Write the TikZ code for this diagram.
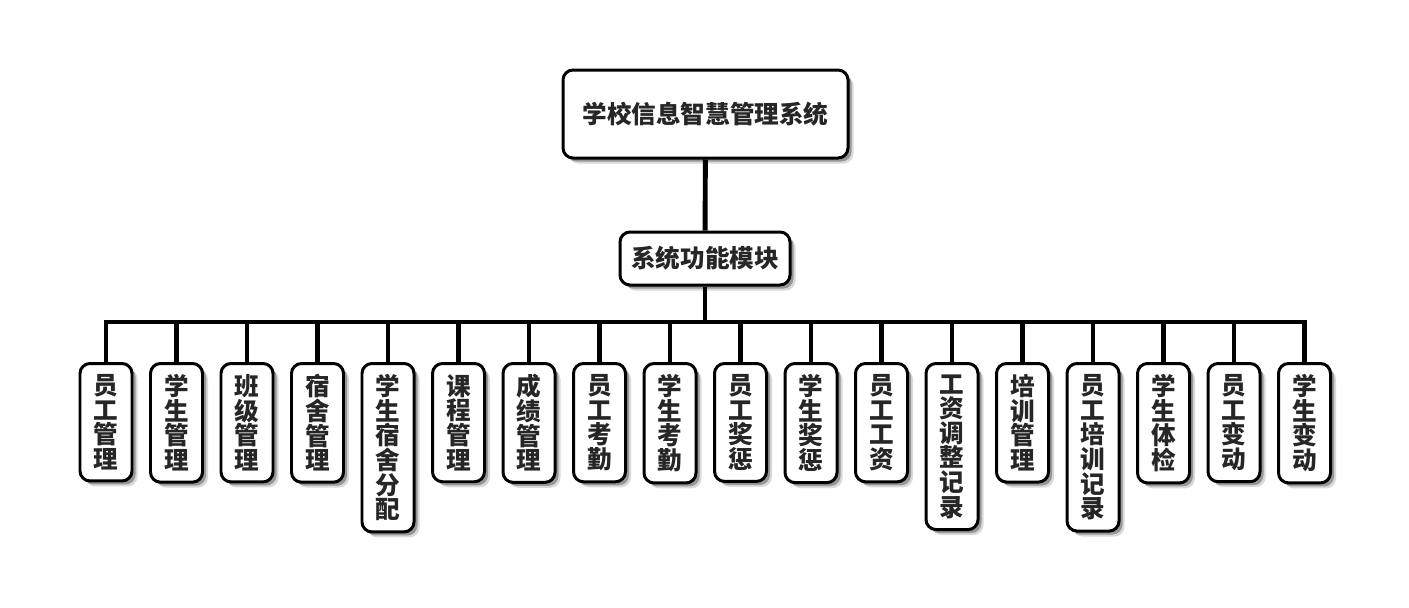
\documentclass[tikz,border=0pt]{standalone}
\usepackage{fontspec}
\newfontfamily\cjk{Noto Sans CJK SC}
\usetikzlibrary{positioning,shadows}

\begin{document}
\begin{tikzpicture}[font=\cjk\bfseries,
  box/.style={draw,line width=1.7pt,rounded corners=0.2cm,fill=white,text=black!85,
    general shadow={shadow xshift=0.11cm,shadow yshift=-0.11cm,opacity=0.15,fill=black},
    drop shadow={shadow xshift=0.07cm,shadow yshift=-0.07cm,opacity=0.3,fill=black}},
  leaf/.style={box,anchor=north,minimum width=1.04cm,inner xsep=0pt,inner ysep=0.22cm,
    align=center,font=\cjk\bfseries\fontsize{14pt}{14pt}\selectfont},
  link/.style={line width=2.8pt}]
\path[use as bounding box] (0,0) rectangle (28.18,-12.14);
\node[box,minimum width=5.7cm,minimum height=1.76cm,font=\cjk\bfseries\fontsize{14pt}{16pt}\selectfont] (root) at (14.11,-2.28) {学校信息智慧管理系统};
\node[box,minimum width=3.4cm,minimum height=1.06cm,font=\cjk\bfseries\fontsize{14pt}{16pt}\selectfont] (mod) at (14.10,-5.17) {系统功能模块};
\coordinate (bus) at (14.10,-6.44);
\node[leaf] (m1) at (2.12,-7.24) {员\\工\\管\\理};
\node[leaf] (m2) at (3.53,-7.24) {学\\生\\管\\理};
\node[leaf] (m3) at (4.94,-7.24) {班\\级\\管\\理};
\node[leaf] (m4) at (6.35,-7.24) {宿\\舍\\管\\理};
\node[leaf] (m5) at (7.76,-7.24) {学\\生\\宿\\舍\\分\\配};
\node[leaf] (m6) at (9.17,-7.24) {课\\程\\管\\理};
\node[leaf] (m7) at (10.58,-7.24) {成\\绩\\管\\理};
\node[leaf] (m8) at (11.99,-7.24) {员\\工\\考\\勤};
\node[leaf] (m9) at (13.40,-7.24) {学\\生\\考\\勤};
\node[leaf] (m10) at (14.81,-7.24) {员\\工\\奖\\惩};
\node[leaf] (m11) at (16.22,-7.24) {学\\生\\奖\\惩};
\node[leaf] (m12) at (17.63,-7.24) {员\\工\\工\\资};
\node[leaf] (m13) at (19.04,-7.24) {工\\资\\调\\整\\记\\录};
\node[leaf] (m14) at (20.45,-7.24) {培\\训\\管\\理};
\node[leaf] (m15) at (21.86,-7.24) {员\\工\\培\\训\\记\\录};
\node[leaf] (m16) at (23.27,-7.24) {学\\生\\体\\检};
\node[leaf] (m17) at (24.68,-7.24) {员\\工\\变\\动};
\node[leaf] (m18) at (26.09,-7.24) {学\\生\\变\\动};
\draw[link] (root) -- (mod);
\draw[link] (mod) -- (bus);
\draw[link] (bus) -| (m1);
\draw[link] (bus) -| (m2);
\draw[link] (bus) -| (m3);
\draw[link] (bus) -| (m4);
\draw[link] (bus) -| (m5);
\draw[link] (bus) -| (m6);
\draw[link] (bus) -| (m7);
\draw[link] (bus) -| (m8);
\draw[link] (bus) -| (m9);
\draw[link] (bus) -| (m10);
\draw[link] (bus) -| (m11);
\draw[link] (bus) -| (m12);
\draw[link] (bus) -| (m13);
\draw[link] (bus) -| (m14);
\draw[link] (bus) -| (m15);
\draw[link] (bus) -| (m16);
\draw[link] (bus) -| (m17);
\draw[link] (bus) -| (m18);
\end{tikzpicture}
\end{document}
